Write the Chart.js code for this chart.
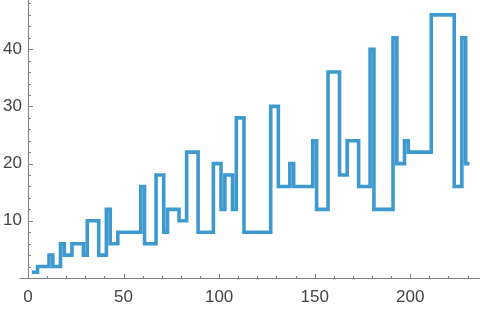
<!DOCTYPE html>
<html>
<head>
<meta charset="utf-8">
<script src="https://cdn.jsdelivr.net/npm/chart.js@4"></script>
<style>
  body { margin: 0; background: #fff; }
</style>
</head>
<body>
<canvas id="stepChart" width="480" height="310"></canvas>
<script>
'use strict'

// x = n-th prime, y = totient of n
let primes = [2, 3, 5, 7, 11, 13, 17, 19, 23, 29, 31, 37, 41, 43, 47, 53, 59, 61, 67, 71,
    73, 79, 83, 89, 97, 101, 103, 107, 109, 113, 127, 131, 137, 139, 149, 151, 157, 163, 167, 173,
    179, 181, 191, 193, 197, 199, 211, 223, 227, 229];
let totients = [1, 1, 2, 2, 4, 2, 6, 4, 6, 4, 10, 4, 12, 6, 8, 8, 16, 6, 18, 8,
    12, 10, 22, 8, 20, 12, 18, 12, 28, 8, 30, 16, 20, 16, 24, 12, 36, 18, 24, 16,
    40, 12, 42, 20, 24, 22, 46, 16, 42, 20];
let lastStepEnd = 231; // last step is carried on to here
let xTicks = [0, 50, 100, 150, 200];
let yTicks = [10, 20, 30, 40];

const points = primes.map((p, i) => ({ x: p, y: totients[i] }));
points.push({ x: lastStepEnd, y: totients[totients.length - 1] });

const axisColor = '#808080';
const labelFont = { family: 'Liberation Sans', size: 17 };

// Mathematica style axes: lines through origin, ticks pointing inwards
const axesPlugin = {
    id: 'axes',
    beforeDatasetsDraw(chart) {
        const ctx = chart.ctx;
        const x = chart.scales.x;
        const y = chart.scales.y;
        const x0 = Math.round(x.getPixelForValue(0)) + 0.5;
        const y0 = Math.round(y.getPixelForValue(0)) + 0.5;
        ctx.save();
        ctx.strokeStyle = axisColor;
        ctx.lineWidth = 1;
        ctx.beginPath();
        ctx.moveTo(x0 - 9, y0);
        ctx.lineTo(x.right, y0);
        ctx.moveTo(x0, y.top);
        ctx.lineTo(x0, y0);
        for (let v = 0; v <= x.max; v += 10) {
            const px = Math.round(x.getPixelForValue(v)) + 0.5;
            const len = v % 50 === 0 ? 4.5 : 2.5;
            ctx.moveTo(px, y0);
            ctx.lineTo(px, y0 - len);
        }
        for (let v = 2; v <= y.max; v += 2) {
            const py = Math.round(y.getPixelForValue(v)) + 0.5;
            const len = v % 10 === 0 ? 4.5 : 2.5;
            ctx.moveTo(x0, py);
            ctx.lineTo(x0 + len, py);
        }
        ctx.stroke();
        ctx.restore();
    }
};

const config = {
    type: 'line',
    data: {
        datasets: [
            {
                data: points,
                stepped: 'before',
                borderColor: '#3e99cf',
                borderWidth: 3.6,
                borderJoinStyle: 'miter',
                pointRadius: 0,
                fill: false
            }
        ]
    },
    options: {
        responsive: false,
        animation: false,
        events: [],
        layout: { padding: 0 },
        plugins: {
            legend: { display: false },
            tooltip: { enabled: false }
        },
        scales: {
            x: {
                type: 'linear',
                min: 0,
                max: 236.5,
                grid: { display: false, drawTicks: false },
                border: { display: false },
                afterBuildTicks: s => { s.ticks = xTicks.map(v => ({ value: v })); },
                afterFit: s => { s.height = 32; s.paddingLeft = 0; s.paddingRight = 0; },
                ticks: { padding: 9, color: '#444', font: labelFont, maxRotation: 0, autoSkip: false }
            },
            y: {
                type: 'linear',
                min: 0,
                max: 48.6,
                grid: { display: false, drawTicks: false },
                border: { display: false },
                afterBuildTicks: s => { s.ticks = yTicks.map(v => ({ value: v })); },
                afterFit: s => { s.width = 28; s.paddingTop = 0; s.paddingBottom = 0; },
                ticks: { padding: 6, color: '#444', font: labelFont }
            }
        }
    },
    plugins: [axesPlugin]
};

const chartStep = new Chart(document.getElementById('stepChart'), config);
</script>
</body>
</html>
